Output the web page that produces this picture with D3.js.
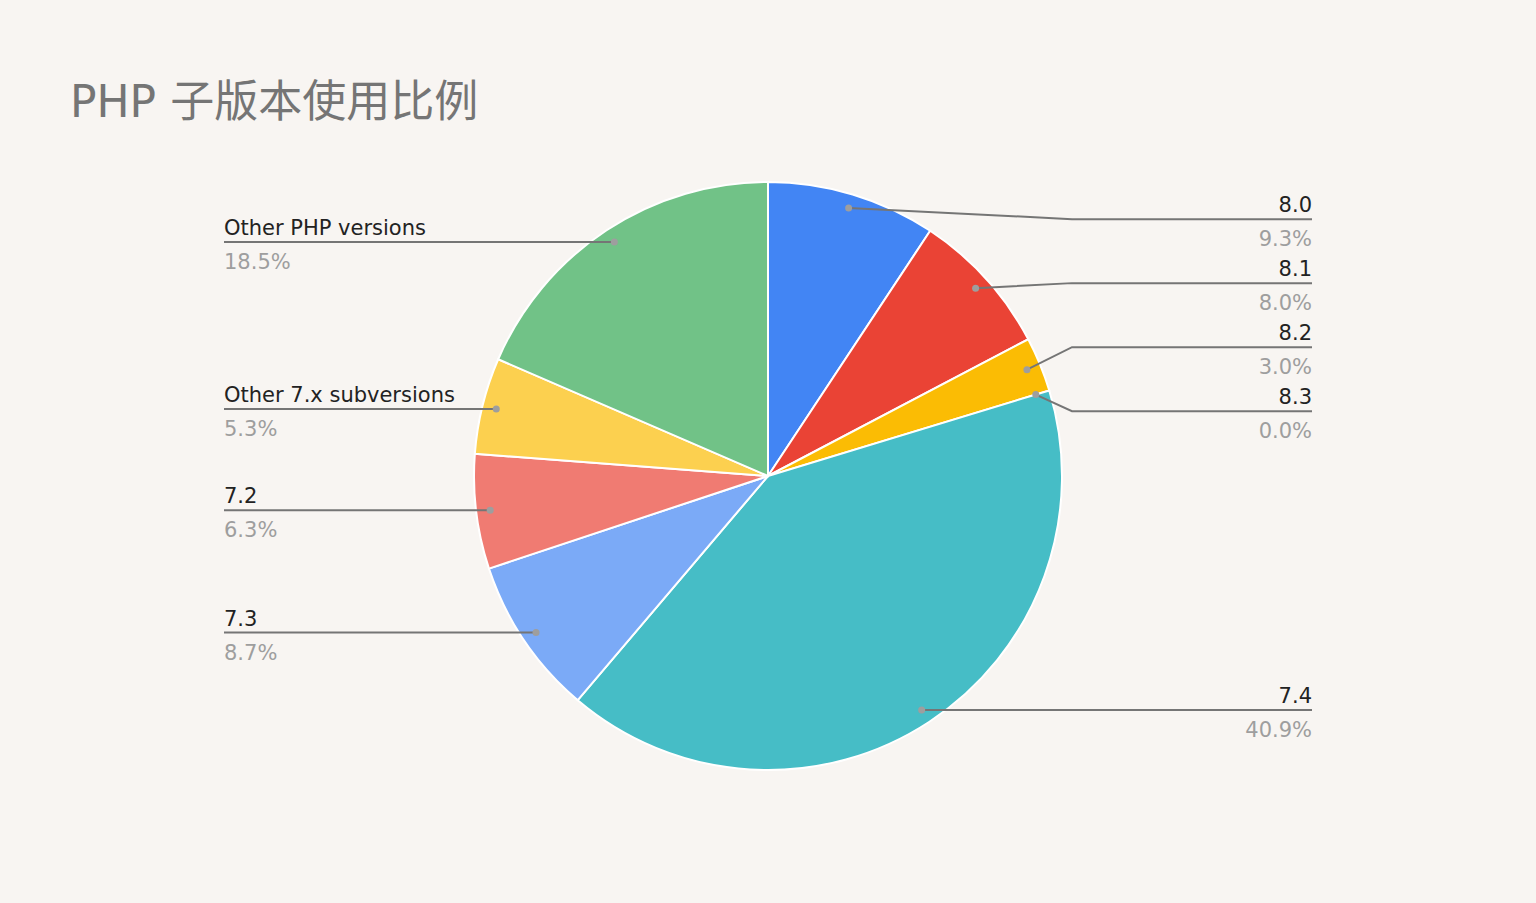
<!DOCTYPE html>
<html>
<head>
<meta charset="utf-8">
<script src="https://cdn.jsdelivr.net/npm/d3@7"></script>
<style>
  html, body { margin: 0; padding: 0; background: #f8f5f2; }
  svg { display: block; }
</style>
</head>
<body>
<div id="chart"></div>
<script>
// data
var versions = ["8.0", "8.1", "8.2", "8.3", "7.4", "7.3", "7.2", "Other 7.x subversions", "Other PHP versions"];
var shares = [9.3, 8.0, 3.0, 0.0, 40.9, 8.7, 6.3, 5.3, 18.5];
var colors = ["#4285f4", "#ea4335", "#fbbc04", "#ff6d01", "#46bdc6", "#7baaf7", "#f07b72", "#fcd04f", "#71c287"];

var width = 1536, height = 903;
var cx = 768, cy = 476, radius = 294;

var svg = d3.select("#chart")
  .append("svg")
    .attr("width", width)
    .attr("height", height);

svg.append("rect")
  .attr("width", width)
  .attr("height", height)
  .attr("fill", "#f8f5f2");

// title
svg.append("text")
  .attr("x", 70)
  .attr("y", 117)
  .attr("font-family", "'DejaVu Sans', 'Noto Sans CJK SC', sans-serif")
  .attr("font-size", 44)
  .attr("fill", "#757575")
  .text("PHP 子版本使用比例");

var data = versions.map(function(v, i) { return {name: v, value: shares[i], color: colors[i]}; });

var pie = d3.pie()
  .sort(null)
  .value(function(d) { return d.value; });

var arcs = pie(data);

var arc = d3.arc()
  .innerRadius(0)
  .outerRadius(radius);

var g = svg.append("g")
  .attr("transform", `translate(${cx},${cy})`);

g.selectAll("path.slice")
  .data(arcs.filter(function(d) { return d.data.value > 0; }))
  .enter()
  .append("path")
    .attr("class", "slice")
    .attr("d", arc)
    .attr("fill", function(d) { return d.data.color; })
    .attr("stroke", "#ffffff")
    .attr("stroke-width", 2);

// label anchors sit at 0.95 of the radius, at mid-angle
var dotR = radius * 0.952;
arcs.forEach(function(d) {
  var a = (d.startAngle + d.endAngle) / 2;
  d.px = Math.sin(a) * dotR;
  d.py = -Math.cos(a) * dotR;
  d.right = a < Math.PI;
});

// push labels apart vertically, keep each block centred on its dots
var gap = 64, clearance = 80;
function layout(list) {
  list.sort(function(a, b) { return a.py - b.py; });
  var blocks = [];
  list.forEach(function(d) {
    blocks.push({items: [d], sum: d.py});
    while (blocks.length > 1) {
      var b = blocks[blocks.length - 1], p = blocks[blocks.length - 2];
      var pTop = p.sum / p.items.length;
      var bTop = b.sum / b.items.length;
      if (bTop < pTop + (p.items.length - 1) * gap + clearance) {
        var n = p.items.length;
        b.items.forEach(function(it, k) { p.sum += it.py - (n + k) * gap; });
        p.items = p.items.concat(b.items);
        blocks.pop();
      } else break;
    }
  });
  blocks.forEach(function(b) {
    var top = b.sum / b.items.length;
    b.items.forEach(function(it, k) { it.ly = top + k * gap; });
  });
}
layout(arcs.filter(function(d) { return d.right; }));
layout(arcs.filter(function(d) { return !d.right; }));

var lineEnd = 544, elbow = 304;

var labels = g.selectAll("g.label")
  .data(arcs)
  .enter()
  .append("g")
    .attr("class", "label");

labels.append("path")
  .attr("d", function(d) {
    var s = d.right ? 1 : -1;
    return d3.line()([[d.px, d.py], [s * elbow, d.ly], [s * lineEnd, d.ly]]);
  })
  .attr("fill", "none")
  .attr("stroke", "#757575")
  .attr("stroke-width", 2);

labels.append("circle")
  .attr("cx", function(d) { return d.px; })
  .attr("cy", function(d) { return d.py; })
  .attr("r", 3.5)
  .attr("fill", "#9e9e9e");

labels.append("text")
  .attr("x", function(d) { return d.right ? lineEnd : -lineEnd; })
  .attr("y", function(d) { return d.ly - 7; })
  .attr("text-anchor", function(d) { return d.right ? "end" : "start"; })
  .attr("font-family", "'DejaVu Sans', sans-serif")
  .attr("font-size", 21)
  .attr("fill", "#222222")
  .text(function(d) { return d.data.name; });

labels.append("text")
  .attr("x", function(d) { return d.right ? lineEnd : -lineEnd; })
  .attr("y", function(d) { return d.ly + 27; })
  .attr("text-anchor", function(d) { return d.right ? "end" : "start"; })
  .attr("font-family", "'DejaVu Sans', sans-serif")
  .attr("font-size", 21)
  .attr("fill", "#9e9e9e")
  .text(function(d) { return d.data.value.toFixed(1) + "%"; });
</script>
</body>
</html>
